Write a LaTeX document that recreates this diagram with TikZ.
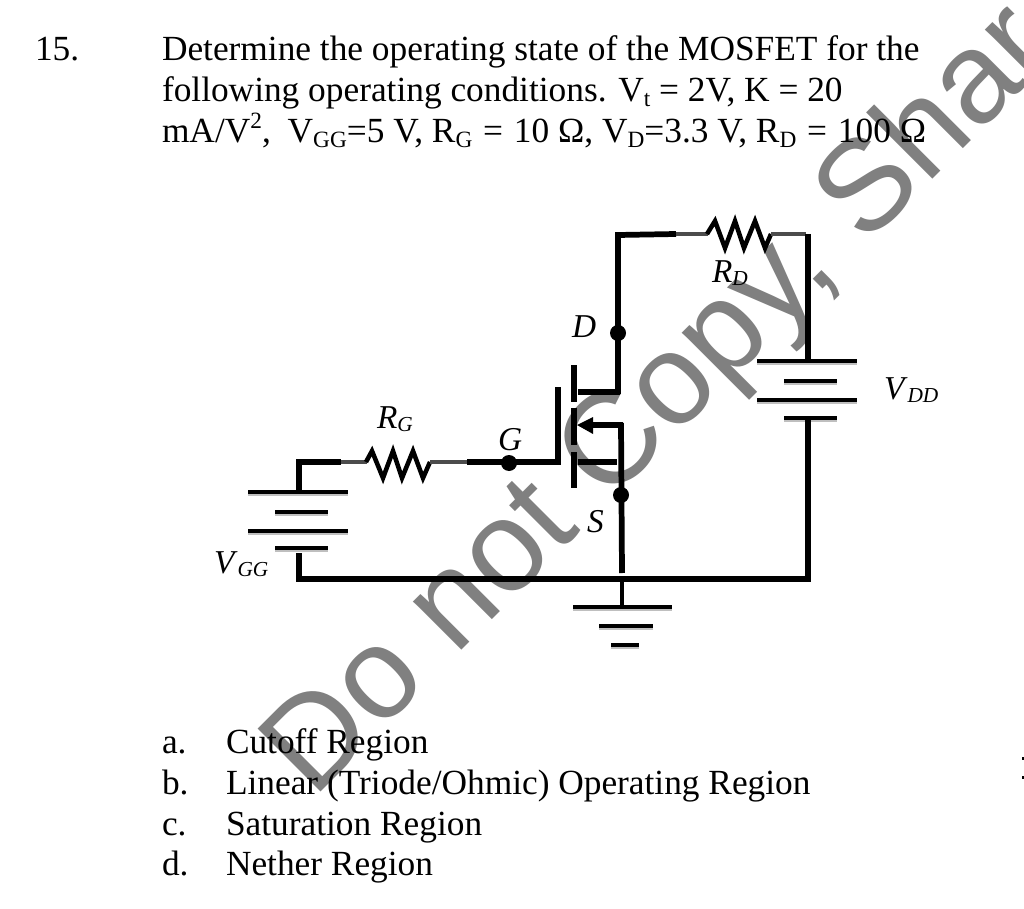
\documentclass[tikz,border=0pt]{standalone}
\usepackage{fontspec}
\setmainfont{Liberation Serif}
\newfontfamily\wmfont{Liberation Sans}
\newcommand{\txtsize}{\fontsize{26.5pt}{30pt}\selectfont}
\newcommand{\lblsize}{\fontsize{25pt}{28pt}\selectfont}
\newcommand{\lo}[1]{\raisebox{-0.13em}{\fontsize{17.5pt}{20pt}\selectfont #1}}
\newcommand{\hi}[1]{\raisebox{0.42em}{\fontsize{17.5pt}{20pt}\selectfont #1}}
\newcommand{\ilbl}[2]{\textit{#1}\raisebox{-0.1em}{\fontsize{16pt}{20pt}\selectfont\textit{#2}}}
\tikzset{
  x=0.75pt,y=-0.75pt,
  txt/.style={anchor=base west,inner sep=0pt,outer sep=0pt,font=\txtsize,text=black},
  lbl/.style={anchor=base west,inner sep=0pt,outer sep=0pt,font=\lblsize,text=black},
  wire/.style={draw=black,line width=4.3pt,line cap=butt,line join=miter},
  thin wire/.style={draw=black!70,line width=3pt},
  res/.style={draw=black,line width=3.4pt,line join=miter},
  plate/.style={draw=black,line width=3.6pt,preaction={draw=black!25,line width=3.6pt,transform canvas={yshift=-1.1pt}}},
  dotn/.style={circle,fill=black,inner sep=0pt,minimum size=12pt},
  wm/.style={anchor=base west,inner sep=0pt,outer sep=0pt,rotate=45,text=black!50,font=\wmfont\fontsize{97pt}{100pt}\selectfont}
}
\begin{document}
\begin{tikzpicture}
\useasboundingbox (0,0) rectangle (1024,909);
\fill[white] (0,0) rectangle (1024,909);
\begin{scope}
\clip (0,0) rectangle (1024,909);
\node[wm] (mark) at (313,799) {Do not Copy, Share};
\end{scope}
% text
\node[txt] (num) at (35,61) {15.};
\node[txt] (l1) at (162,61) {Determine the operating state of the MOSFET for the};
\node[txt] (l2) at (162,102) {following operating conditions. V\lo{t} = 2V, K = 20};
\node[txt] (l3) at (162,143) {mA/V\hi{2},\hspace{6pt} V\lo{GG}=5 V, R\lo{G}\hspace{1.5pt} =\hspace{1.5pt} 10 Ω, V\lo{D}=3.3 V, R\lo{D}\hspace{1.5pt} =\hspace{1.5pt} 100 Ω};
\node[txt] (a) at (162,753) {a.};
\node[txt] (at) at (226,753) {Cutoff Region};
\node[txt] (b) at (162,794) {b.};
\node[txt] (bt) at (226,794) {Linear (Triode/Ohmic) Operating Region};
\node[txt] (c) at (162,835) {c.};
\node[txt] (ct) at (226,835) {Saturation Region};
\node[txt] (d) at (162,875) {d.};
\node[txt] (dt) at (226,875) {Nether Region};
% coordinates
\coordinate (dnode) at (618,333);
\coordinate (gnode) at (509,463);
\coordinate (snode) at (621,495);
\coordinate (tl) at (618,235);
\coordinate (tr) at (808,234);
\coordinate (gl) at (299,462);
\coordinate (bl) at (299,579);
\coordinate (br) at (808,579);
\coordinate (gndtop) at (622,579);
% wires
\draw[wire] (618,394) -- (dnode) -- (tl) -- (676,234);
\draw[thin wire] (676,234) -- (708,234);
\draw[res] (707,234) -- (715,221) -- (725,248) -- (735,221) -- (744,248) -- (755,221) -- (765,248) -- (771,234);
\draw[thin wire] (771,234) -- (806,234);
\draw[wire] (tr) -- (808,360);
% VDD
\draw[plate] (757,361) -- (857,361);
\draw[plate] (784,381) -- (837,381);
\draw[plate] (757,400) -- (857,400);
\draw[plate] (784,418) -- (837,418);
\draw[wire] (808,418) -- (br) -- (bl) -- (299,553);
% VGG
\draw[plate] (248,492) -- (348,492);
\draw[plate] (275,512) -- (328,512);
\draw[plate] (248,531) -- (348,531);
\draw[plate] (275,548) -- (328,548);
\draw[wire] (299,490) -- (gl) -- (341,462);
\draw[thin wire] (341,462) -- (367,462);
\draw[res] (366,462) -- (372,451) -- (383,478) -- (393,451) -- (402,478) -- (413,451) -- (423,478) -- (430,462);
\draw[thin wire] (430,462) -- (467,462);
\draw[wire] (467,462) -- (558,462) -- (558,387);
% MOSFET
\draw[wire] (574,365) -- (574,402);
\draw[wire] (574,408) -- (574,445);
\draw[wire] (574,452) -- (574,488);
\draw[wire] (578,392) -- (620,392);
\draw[wire] (578,462) -- (617,462);
\draw[wire] (623,425) -- (593,425);
\fill[black] (577,425) -- (593,417) -- (593,434) -- cycle;
\draw[wire] (621,423) -- (622,573);
\draw[wire,line width=3.4pt] (gndtop) -- (622,607);
% ground
\draw[plate] (573,607) -- (672,607);
\draw[plate] (599,626) -- (653,626);
\draw[plate] (611,645) -- (639,645);
% dots
\node[dotn] (dd) at (dnode) {};
\node[dotn] (gd) at (gnode) {};
\node[dotn] (sd) at (snode) {};
% labels
\node[lbl] (ld) at (572,337) {\textit{D}};
\node[lbl] (lg) at (498,450) {\textit{G}};
\node[lbl] (ls) at (587,532) {\textit{S}};
\node[lbl] (lrd) at (712,282) {\ilbl{R}{D}};
\node[lbl] (lrg) at (377,428) {\ilbl{R}{G}};
\node[lbl] (lvd) at (884,399) {\ilbl{V}{DD}};
\node[lbl] (lvg) at (214,573) {\ilbl{V}{GG}};
% edge specks
\fill[black] (1022,757) rectangle (1024,760);
\fill[black] (1022,776) rectangle (1024,779);
\end{tikzpicture}
\end{document}
